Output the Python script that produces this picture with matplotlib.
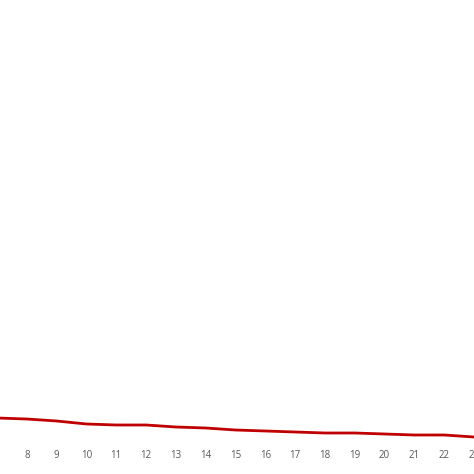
import matplotlib
matplotlib.use('Agg')
import matplotlib.pyplot as plt

days = [7, 8, 9, 10, 11, 12, 13, 14, 15, 16, 17, 18, 19, 20, 21, 22, 23]
values = [24, 23, 21, 18, 17, 17, 15, 14, 12, 11, 10, 9, 9, 8, 7, 7, 5]
tick_days = list(range(8, 24))

fig = plt.figure(figsize=(4.74, 4.74), dpi=100)
ax = fig.add_axes([0, 32 / 474, 1, 442 / 474])
ax.plot(days, values, color='#c00000', linewidth=2)
ax.set_xlim(7.1, 22.95)
ax.set_ylim(0, 442)
ax.set_xticks(tick_days)
ax.set_xticklabels([str(d) for d in tick_days], fontsize=7, color='#595959', family='Open Sans')
ax.tick_params(axis='x', length=0, pad=6)
ax.set_yticks([])
for s in ax.spines.values():
    s.set_visible(False)
fig.savefig('out.png', dpi=100)
